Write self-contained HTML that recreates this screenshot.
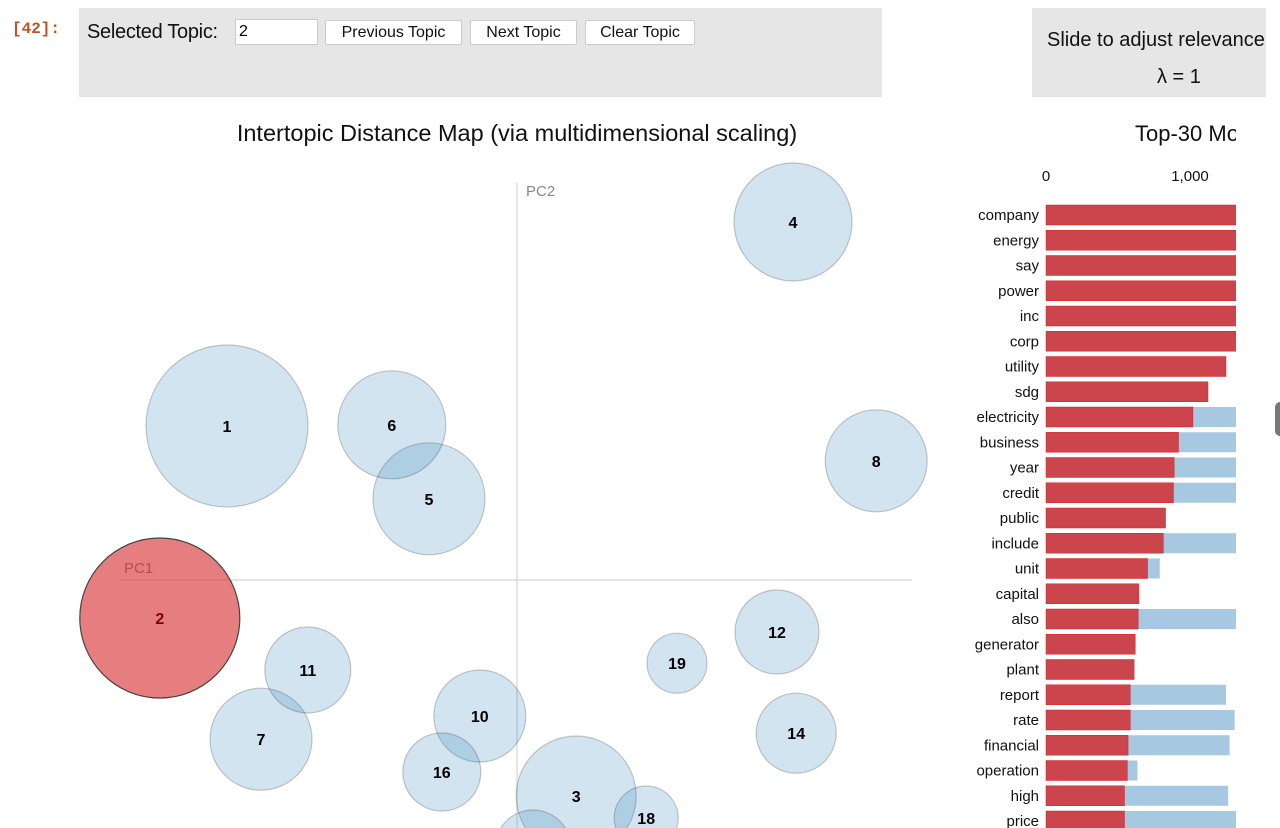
<!DOCTYPE html>
<html style="overflow:hidden"><head><meta charset="utf-8"><style>
html,body{margin:0;width:1280px;height:828px;overflow:hidden}
body{background:#fff;font-family:"Liberation Sans",sans-serif;position:relative}
.abs{position:absolute}
.btn{position:absolute;top:20px;height:23px;border:1px solid #ccc;background:#fff;border-radius:2px;font-size:16px;line-height:23px;text-align:center;color:#111}
</style></head><body>
<div class="abs" style="left:12px;top:20px;color:#c2521f;font-family:'Liberation Mono',monospace;font-size:16px;font-weight:bold">[42]:</div>
<div class="abs" style="left:79px;top:8px;width:803px;height:89px;background:#e6e6e6"></div>
<div class="abs" style="left:87px;top:21px;font-size:20px;color:#111;letter-spacing:-0.3px">Selected Topic:</div>
<div class="abs" style="left:235px;top:19px;width:78px;height:24px;background:#fff;border:1px solid #ccc;font-size:16px;line-height:24px;padding-left:3px">2</div>
<div class="btn" style="left:325px;width:135px">Previous Topic</div>
<div class="btn" style="left:470px;width:105px">Next Topic</div>
<div class="btn" style="left:585px;width:108px">Clear Topic</div>
<div class="abs" style="left:1032px;top:8px;width:234px;height:89px;background:#e6e6e6;overflow:hidden">
<div class="abs" style="left:15px;top:21px;font-size:20px;white-space:nowrap;color:#111">Slide to adjust relevance metric:</div>
<div class="abs" style="left:125px;top:58px;font-size:20px;color:#111">λ = 1</div>
</div>
<div class="abs" style="left:1275px;top:402px;width:10px;height:34px;background:#777;border-radius:5px"></div>
<svg class="abs" style="left:0;top:0;display:block" width="1280" height="828">
<text x="517" y="141" text-anchor="middle" font-size="23.5" fill="#111">Intertopic Distance Map (via multidimensional scaling)</text>
<g id="map"></g>
<svg x="940" y="110" width="296" height="718"><g id="bars"></g></svg>
</svg>
<script>
const topicIds=[1,2,3,4,5,6,7,8,10,11,12,14,16,18,19,20];
const pc1=[-0.725,-0.893,0.148,0.690,-0.220,-0.313,-0.640,0.898,-0.093,-0.523,0.650,0.698,-0.188,0.323,0.400,0.040];
const pc2=[0.385,-0.095,-0.540,0.895,0.203,0.388,-0.398,0.298,-0.340,-0.225,-0.130,-0.383,-0.480,-0.595,-0.208,-0.670];
const radius=[81,80,60,59,56,54,51,51,46,43,42,40,39,32,30,38];
const terms=["company","energy","say","power","inc","corp","utility","sdg","electricity","business","year","credit","public","include","unit","capital","also","generator","plant","report","rate","financial","operation","high","price"];
const topicFreq=[1500,1500,1450,1450,1450,1450,1250,1125,1020,920,890,885,830,815,705,645,640,620,612,585,585,570,565,545,545];
const totalFreq=[1500,1500,1450,1450,1450,1450,1250,1125,1400,1400,1400,1400,830,1400,790,645,1400,620,612,1250,1310,1275,635,1265,1400];
const ticks=[0,1000];
const NS="http://www.w3.org/2000/svg";
function mk(tag,attrs,parent){const e=document.createElementNS(NS,tag);for(const k in attrs)e.setAttribute(k,attrs[k]);parent.appendChild(e);return e;}
const xS=v=>517+v*400, yS=v=>580-v*400;
const map=document.getElementById('map');
let l=mk('line',{x1:120,x2:912,y1:yS(0),y2:yS(0),stroke:'#ccc'},map);


l=mk('line',{x1:xS(0),x2:xS(0),y1:183,y2:828,stroke:'#ccc'},map);


let t=mk('text',{x:124,y:573,'font-size':15,fill:'#888'},map);t.textContent='PC1';


t=mk('text',{x:526,y:196,'font-size':15,fill:'#888'},map);t.textContent='PC2';


topicIds.forEach((id,i)=>{
  const sel=id===2;
  const c=mk('circle',{cx:xS(pc1[i]),cy:yS(pc2[i]),r:radius[i],fill:sel?'rgba(214,39,40,0.6)':'rgba(31,119,180,0.2)',stroke:sel?'#444':'rgba(0,0,0,0.2)','stroke-width':1.2},map);
  
  
});
topicIds.forEach((id,i)=>{
  const sel=id===2;
  const tx=mk('text',{x:xS(pc1[i]),y:yS(pc2[i])+6,'text-anchor':'middle','font-size':16,'font-weight':'bold',fill:sel?'#7a0000':'#000'},map);
  tx.textContent=id;
  
  
});
const bars=document.getElementById('bars');
const bx=v=>106+v*0.144, by=i=>95+i*25.25;
t=mk('text',{x:1135-940,y:141-110,'font-size':22,fill:'#111'},bars);t.textContent='Top-30 Most Relevant Terms for Topic 2';


ticks.forEach(v=>{const tk=mk('text',{x:bx(v),y:71,'text-anchor':'middle','font-size':15,fill:'#111'},bars);tk.textContent=v.toLocaleString('en-US');

});
terms.forEach((w,i)=>{
  const y=by(i);
  const b=mk('rect',{x:bx(0),y:y,width:bx(totalFreq[i])-bx(0),height:20,fill:'#a6c8e0'},bars);
  
  
  const r=mk('rect',{x:bx(0),y:y,width:bx(topicFreq[i])-bx(0),height:20,fill:'#cc444c',stroke:'#d62728','stroke-width':0.5},bars);
  
  
  const lb=mk('text',{x:99,y:y+15,'text-anchor':'end','font-size':15,fill:'#111'},bars);lb.textContent=w;
  
  
});
</script>
</body></html>
